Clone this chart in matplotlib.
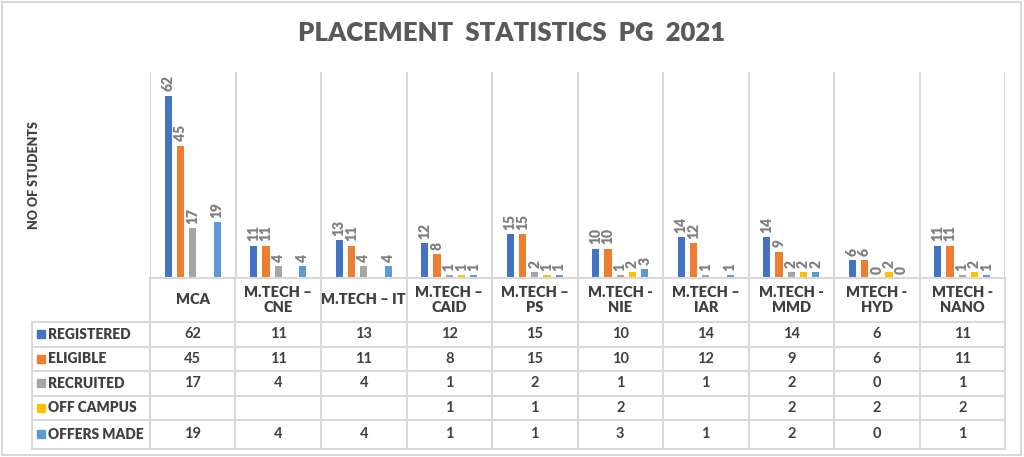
import matplotlib
matplotlib.use("Agg")
import matplotlib.pyplot as plt
from matplotlib.patches import Rectangle
from matplotlib.lines import Line2D

categories = ["MCA", "M.TECH –\nCNE", "M.TECH – IT", "M.TECH –\nCAID", "M.TECH –\nPS",
              "M.TECH -\nNIE", "M.TECH –\nIAR", "M.TECH -\nMMD", "MTECH -\nHYD", "MTECH -\nNANO"]
series_names = ["REGISTERED", "ELIGIBLE", "RECRUITED", "OFF CAMPUS", "OFFERS MADE"]
registered = [62, 11, 13, 12, 15, 10, 14, 14, 6, 11]
eligible = [45, 11, 11, 8, 15, 10, 12, 9, 6, 11]
recruited = [17, 4, 4, 1, 2, 1, 1, 2, 0, 1]
off_campus = [None, None, None, 1, 1, 2, None, 2, 2, 2]
offers_made = [19, 4, 4, 1, 1, 3, 1, 2, 0, 1]
series = [registered, eligible, recruited, off_campus, offers_made]
colors = ["#4472C4", "#ED7D31", "#A5A5A5", "#FFC000", "#5B9BD5"]

plt.rcParams['font.family'] = ['Lato', 'DejaVu Sans']
W, H = 1024, 457
fig = plt.figure(figsize=(W / 100, H / 100), dpi=100)

def fx(px):
    return px / W

def fy(py):
    return 1 - py / H

grid_c = "#D9D9D9"
text_c = "#404040"
lab_c = "#7F7F7F"
FH = "heavy"
FB = "bold"

# chart border
fig.patches.append(Rectangle((fx(2), fy(455)), fx(1021) - fx(2), fy(2) - fy(455),
                             transform=fig.transFigure, fill=False, edgecolor=grid_c, lw=1.5))

# bar axes
x0, x1 = 150, 1005
ytop, ybot = 72, 278
ax = fig.add_axes([fx(x0), fy(ybot), fx(x1) - fx(x0), fy(ytop) - fy(ybot)])
n = len(categories)
ax.set_xlim(-0.5, n - 0.5)
ax.set_ylim(0, 70)
step = 0.143
width = 0.085
for i, (vals, col) in enumerate(zip(series, colors)):
    off = (i - 2) * step
    for j, v in enumerate(vals):
        if v is None:
            continue
        ax.bar(j + off, v, width=width, color=col, zorder=3)
        ax.annotate(str(v), (j + off, v), xytext=(0, 3), textcoords="offset points",
                    rotation=90, ha="center", va="bottom", fontsize=10,
                    fontweight=FH, color=lab_c)
for b in range(n + 1):
    ax.axvline(b - 0.5, color=grid_c, lw=1.5, zorder=1)
for s in ax.spines.values():
    s.set_visible(False)
ax.set_xticks([])
ax.set_yticks([])
ax.patch.set_alpha(0)

# table axes
tl = 32
cw = (x1 - x0) / n
tax = fig.add_axes([fx(tl), fy(449), fx(x1) - fx(tl), fy(ybot) - fy(449)])
tax.set_xlim(-0.5 - (x0 - tl) / cw, n - 0.5)
tax.set_ylim(449, ybot)
tax.axis("off")
row_edges = [322, 347, 371, 396, 420, 449]
xl = -0.5 - (x0 - tl) / cw
lkw = dict(color=grid_c, lw=1.5, clip_on=False)
tax.add_line(Line2D([-0.5, n - 0.5], [ybot, ybot], **lkw))
for y in row_edges:
    tax.add_line(Line2D([xl, n - 0.5], [y, y], **lkw))
tax.add_line(Line2D([xl, xl], [row_edges[0], row_edges[-1]], **lkw))
for b in range(n + 1):
    tax.add_line(Line2D([b - 0.5, b - 0.5], [ybot, row_edges[-1]], **lkw))
for j, c in enumerate(categories):
    tax.text(j, (ybot + row_edges[0]) / 2, c, ha="center", va="center", fontsize=10.5,
             fontweight=FH, color=text_c, linespacing=1.15)
for i, (name, vals, col) in enumerate(zip(series_names, series, colors)):
    yc = (row_edges[i] + row_edges[i + 1]) / 2
    sq = 8 / cw
    tax.add_patch(Rectangle((xl + 5 / cw, yc - 4), sq, 8, color=col, clip_on=False))
    tax.text(xl + 16 / cw, yc, name, ha="left", va="center", fontsize=9.9,
             fontweight=FH, color=text_c)
    for j, v in enumerate(vals):
        if v is None:
            continue
        tax.text(j, yc, str(v), ha="center", va="center", fontsize=10.5,
                 fontweight=FB, color=text_c)

fig.text(fx(512), fy(33), "PLACEMENT  STATISTICS  PG  2021", ha="center", va="center",
         fontsize=18.5, fontweight=FH, color="#595959")
fig.text(fx(34), fy(175), "NO OF STUDENTS", rotation=90, ha="center", va="center",
         fontsize=9, fontweight=FH, color=text_c)

fig.savefig("out.png", dpi=100)
